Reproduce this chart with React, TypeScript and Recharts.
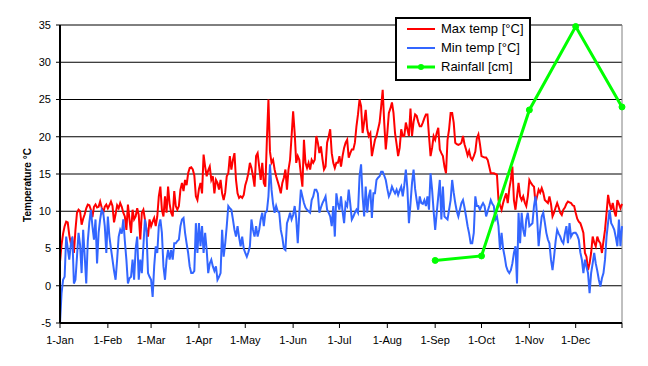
import { LineChart, Line, XAxis, YAxis, CartesianGrid, ReferenceLine, Legend } from 'recharts'

// tick labels
const monthLabels = ['1-Jan', '1-Feb', '1-Mar', '1-Apr', '1-May', '1-Jun', '1-Jul', '1-Aug', '1-Sep', '1-Oct', '1-Nov', '1-Dec', '']
const monthTicks = [0, 31, 59, 90, 120, 151, 181, 212, 243, 273, 304, 334, 364]
const tempTicks = [-5, 0, 5, 10, 15, 20, 25, 30, 35]

// daily max temperature, 1 Jan .. 31 Dec
const maxTemp = [
  3.2, 5.5, 7.0, 8.0, 8.6, 8.5, 6.8, 5.7, 6.2, 4.4,
  7.5, 9.8, 10.2, 10.0, 8.2, 9.0, 9.6, 10.4, 10.9, 10.8,
  10.2, 9.2, 10.6, 10.9, 10.5, 10.6, 11.3, 10.5, 9.8, 10.6,
  10.9, 10.4, 10.8, 11.3, 10.7, 8.5, 9.6, 10.8, 10.4, 11.1,
  10.6, 9.8, 9.3, 7.5, 10.9, 8.9, 7.1, 10.2, 8.9, 9.3,
  10.4, 9.5, 6.2, 9.8, 10.2, 8.9, 7.5, 6.6, 8.9, 8.0,
  8.6, 9.1, 8.0, 9.3, 12.0, 13.3, 10.2, 9.3, 12.0, 9.8,
  13.3, 11.0, 9.8, 9.3, 12.7, 10.7, 10.2, 10.7, 12.9, 13.8,
  12.7, 14.2, 13.5, 15.1, 15.8, 15.9, 15.6, 14.8, 12.0, 11.5,
  13.0, 13.8, 12.4, 17.6, 16.0, 14.7, 15.5, 16.0, 14.2, 14.7,
  12.4, 14.2, 13.8, 12.9, 14.2, 12.4, 11.5, 12.5, 14.7, 15.1,
  17.4, 15.6, 16.9, 17.8, 14.2, 12.4, 11.8, 12.0, 11.8, 12.2,
  13.5, 14.2, 15.1, 16.5, 15.8, 14.7, 13.3, 17.4, 17.8, 16.0,
  14.2, 16.5, 13.8, 13.3, 19.6, 25.0, 18.0, 16.5, 16.9, 15.6,
  14.7, 14.0, 13.3, 12.4, 13.8, 14.5, 15.6, 12.9, 15.6, 16.9,
  20.1, 23.4, 20.5, 16.5, 17.4, 16.9, 15.0, 13.3, 19.6, 16.5,
  15.8, 16.5, 15.6, 16.9, 16.5, 16.9, 20.1, 19.2, 17.8, 18.7,
  17.0, 15.6, 16.0, 19.2, 20.0, 21.0, 17.8, 16.5, 15.8, 16.5,
  16.5, 17.4, 16.0, 17.4, 18.5, 19.2, 19.6, 17.2, 17.8, 18.3,
  18.3, 19.2, 21.4, 23.0, 25.0, 24.1, 20.5, 22.0, 23.6, 21.0,
  20.1, 20.5, 17.4, 18.5, 19.6, 20.1, 21.0, 21.9, 24.0, 26.3,
  21.9, 18.3, 20.5, 23.2, 23.8, 24.6, 23.2, 20.5, 19.0, 17.4,
  18.5, 21.0, 20.1, 20.1, 21.9, 21.0, 20.1, 23.8, 20.1, 22.0,
  23.0, 22.8, 22.0, 21.4, 21.4, 21.9, 22.5, 23.0, 23.0, 20.1,
  17.4, 18.5, 20.1, 19.6, 20.5, 21.2, 18.3, 17.8, 17.4, 16.0,
  15.1, 19.6, 21.0, 23.2, 23.2, 21.9, 19.2, 19.0, 18.9, 19.0,
  19.2, 20.1, 19.0, 18.3, 17.5, 18.1, 17.2, 16.9, 17.4, 18.0,
  19.8, 20.3, 19.0, 17.4, 17.3, 17.2, 17.2, 16.9, 16.0, 15.1,
  15.1, 15.1, 15.0, 14.9, 11.5, 10.8, 10.2, 11.1, 11.8, 12.4,
  11.1, 13.0, 14.2, 16.0, 11.5, 10.2, 12.0, 13.8, 12.0, 11.5,
  12.0, 11.2, 10.7, 12.0, 14.2, 13.8, 13.5, 13.3, 11.1, 12.0,
  12.9, 12.5, 13.1, 12.5, 11.5, 11.3, 11.1, 12.0, 11.0, 9.3,
  9.8, 10.5, 11.1, 10.5, 9.8, 9.5, 10.2, 10.5, 11.0, 11.3,
  11.2, 11.1, 10.8, 10.7, 9.8, 9.0, 8.6, 8.4, 7.8, 7.1,
  4.4, 3.9, 2.1, 3.0, 4.4, 6.6, 5.8, 5.3, 6.6, 6.0,
  5.7, 4.4, 6.0, 7.5, 9.8, 12.2, 11.0, 10.2, 11.1, 10.0,
  9.3, 11.5, 11.0, 10.4, 11.0,
]

// daily min temperature
const minTemp = [
  -5.0, -1.0, 0.8, 1.2, 6.6, 5.0, 3.5, 5.5, 6.6, 0.3,
  0.8, 3.9, 7.1, 5.5, 1.7, 7.5, 4.0, 0.3, 6.0, 8.5,
  10.2, 8.0, 6.2, 8.9, 3.0, 7.1, 8.9, 10.2, 9.8, 8.0,
  4.4, 9.3, 6.6, 5.0, 3.5, 2.0, 0.8, 3.5, 6.6, 7.5,
  7.0, 8.9, 6.0, 3.5, 0.3, 1.0, 1.2, 3.5, 0.8, 5.0,
  6.6, 0.8, 3.5, 1.7, 5.3, 8.9, 7.5, 1.7, 1.2, 0.8,
  -1.5, 2.6, 5.3, 4.4, 8.0, 8.9, 7.1, 2.6, 0.8, 3.5,
  4.8, 3.5, 4.8, 3.5, 5.7, 5.7, 6.0, 6.2, 8.0, 8.9,
  9.1, 7.1, 5.7, 4.4, 2.6, 1.7, 1.7, 2.0, 8.4, 4.4,
  8.4, 5.3, 8.0, 4.4, 7.1, 4.8, 1.7, 3.0, 3.5, 2.6,
  2.0, 2.6, 0.8, 1.2, 1.7, 7.5, 3.9, 5.7, 8.0, 10.7,
  10.4, 10.2, 8.9, 7.5, 6.6, 8.0, 6.5, 5.3, 6.6, 5.0,
  4.4, 3.9, 4.5, 5.3, 8.9, 7.5, 6.6, 8.0, 6.6, 7.5,
  8.9, 9.8, 8.0, 9.8, 10.0, 12.0, 16.3, 12.9, 11.0, 9.8,
  10.7, 10.0, 9.8, 7.5, 6.5, 5.0, 4.8, 8.4, 9.0, 9.8,
  8.9, 9.5, 10.7, 9.0, 5.7, 9.8, 12.9, 12.0, 11.1, 10.5,
  10.2, 10.0, 9.8, 11.5, 12.0, 12.9, 12.9, 12.4, 9.8, 10.5,
  11.1, 11.5, 12.0, 10.2, 9.8, 9.3, 8.0, 10.7, 6.6, 12.4,
  11.0, 10.2, 12.0, 10.0, 8.4, 11.1, 10.7, 12.9, 11.0, 8.9,
  9.3, 9.8, 10.2, 9.8, 14.7, 16.3, 12.0, 9.3, 13.3, 9.8,
  12.0, 12.9, 9.1, 12.4, 12.4, 14.2, 14.5, 14.7, 15.3, 15.3,
  14.8, 14.2, 13.0, 12.0, 12.5, 13.3, 12.8, 12.4, 12.9, 12.2,
  12.8, 13.3, 12.0, 13.5, 15.6, 13.0, 8.4, 11.0, 13.8, 15.6,
  13.0, 11.5, 10.2, 12.0, 11.1, 11.0, 11.5, 10.7, 12.0, 10.2,
  15.1, 12.9, 10.0, 7.5, 9.8, 12.0, 14.2, 8.9, 13.3, 9.3,
  9.1, 8.9, 10.2, 11.5, 14.2, 12.5, 11.1, 10.0, 9.3, 10.2,
  11.1, 11.5, 10.5, 9.3, 8.0, 7.0, 5.7, 5.7, 7.1, 12.0,
  10.7, 10.7, 10.2, 10.7, 11.1, 10.7, 9.3, 10.0, 10.7, 11.5,
  11.0, 10.7, 8.9, 9.3, 8.0, 4.8, 7.1, 5.0, 3.9, 2.6,
  2.0, 1.7, 2.1, 3.0, 4.4, 5.3, 0.3, 9.8, 5.7, 9.8,
  7.5, 6.6, 8.9, 9.8, 8.0, 8.2, 8.4, 10.7, 12.0, 9.3,
  5.3, 7.5, 9.3, 9.8, 8.5, 7.1, 6.2, 5.7, 3.5, 2.1,
  3.9, 6.0, 7.5, 7.0, 6.6, 6.0, 5.7, 7.0, 8.0, 5.7,
  8.4, 6.6, 7.0, 7.1, 7.1, 6.8, 6.2, 4.5, 3.5, 1.7,
  3.5, 2.5, 1.7, -1.0, 1.7, 3.0, 4.4, 3.0, 2.0, 0.8,
  -0.1, 1.0, 1.7, 3.5, 6.6, 8.5, 10.2, 8.4, 8.0, 7.5,
  6.5, 5.3, 8.9, 5.3, 8.0,
]

// monthly rainfall (cm), only measured from September
const rainDays = [243, 273, 304, 334, 364]
const rainfall = [3.4, 4.0, 23.6, 34.8, 24.0]

const RED = '#ff0000'
const BLUE = '#3366ff'
const GREEN = '#00ff00'
const FONT = '"Liberation Sans", Arial, sans-serif'

const data = maxTemp.map((v, i) => {
  const r = rainDays.indexOf(i)
  return { day: i, max: v, min: minTemp[i], rain: r >= 0 ? rainfall[r] : null }
})

const legendItems = [
  { label: 'Max temp [°C]', color: RED, width: 2, marker: false },
  { label: 'Min temp [°C]', color: BLUE, width: 2, marker: false },
  { label: 'Rainfall [cm]', color: GREEN, width: 3, marker: true },
]

function LegendBox() {
  return (
    <div
      style={{
        width: 136,
        height: 64,
        boxSizing: 'border-box',
        border: '2px solid #000',
        background: '#fff',
        fontFamily: FONT,
        fontSize: 13,
        color: '#000',
      }}
    >
      {legendItems.map((it) => (
        <div key={it.label} style={{ height: 19, display: 'flex', alignItems: 'center' }}>
          <svg width={44} height={10} style={{ flex: 'none' }}>
            <line x1={10} x2={38} y1={5} y2={5} stroke={it.color} strokeWidth={it.width} />
            {it.marker && <circle cx={24} cy={5} r={3} fill={it.color} />}
          </svg>
          <span>{it.label}</span>
        </div>
      ))}
    </div>
  )
}

function AxisTitle() {
  return (
    <text
      x={27}
      y={185}
      transform="rotate(-90, 27, 185)"
      textAnchor="middle"
      dominantBaseline="central"
      fontFamily={FONT}
      fontSize={10}
      fontWeight="bold"
      fill="#000"
    >
      Temperature °C
    </text>
  )
}

export default function App() {
  return (
    <div style={{ position: 'absolute', left: 0, top: 0, width: 648, height: 366, background: '#fff' }}>
      <LineChart width={648} height={366} data={data} margin={{ top: 25, right: 26, bottom: 13, left: 0 }}>
        <CartesianGrid horizontal vertical={false} stroke="#000" />
        <XAxis
          dataKey="day"
          type="number"
          domain={[0, 364]}
          ticks={monthTicks}
          interval={0}
          tickFormatter={(v: number) => monthLabels[monthTicks.indexOf(v)]}
          height={30}
          tickSize={5}
          tickMargin={8}
          axisLine={{ stroke: '#000', strokeWidth: 2 }}
          tickLine={{ stroke: '#000' }}
          tick={{ fontSize: 11, fill: '#000', fontFamily: FONT }}
        />
        <YAxis
          type="number"
          domain={[-5, 35]}
          ticks={tempTicks}
          interval={0}
          width={60}
          tickSize={4}
          tickMargin={5}
          axisLine={{ stroke: '#000', strokeWidth: 2 }}
          tickLine={{ stroke: '#000' }}
          tick={{ fontSize: 11, fill: '#000', fontFamily: FONT }}
          label={<AxisTitle />}
        />
        <ReferenceLine y={35} stroke="#808080" />
        <ReferenceLine x={364} stroke="#808080" />
        <Legend
          layout="vertical"
          align="center"
          verticalAlign="middle"
          content={() => <LegendBox />}
          wrapperStyle={{ position: 'absolute', left: 395, top: 17, width: 136, height: 64 }}
        />
        <Line dataKey="max" stroke={RED} strokeWidth={2} dot={false} activeDot={false} isAnimationActive={false} />
        <Line dataKey="min" stroke={BLUE} strokeWidth={2} dot={false} activeDot={false} isAnimationActive={false} />
        <Line
          dataKey="rain"
          stroke={GREEN}
          strokeWidth={3}
          connectNulls
          dot={{ r: 3, fill: GREEN, stroke: GREEN, strokeWidth: 1 }}
          activeDot={false}
          isAnimationActive={false}
        />
      </LineChart>
    </div>
  )
}
